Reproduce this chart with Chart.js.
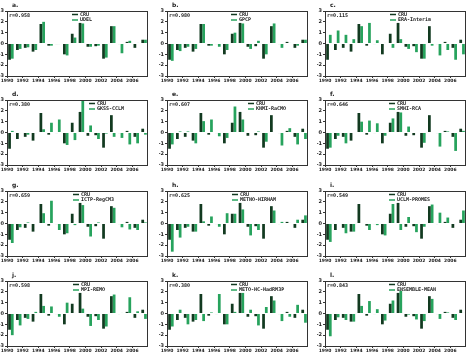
<!DOCTYPE html>
<html><head><meta charset="utf-8">
<script src="https://cdn.jsdelivr.net/npm/chart.js@4/dist/chart.umd.min.js"></script>
<style>
html,body{margin:0;padding:0;background:#fff;}
#wrap{position:relative;width:474px;height:359px;overflow:hidden;}
canvas{position:absolute;}
</style></head>
<body><div id="wrap"></div>
<script>
const years = [1990,1991,1992,1993,1994,1995,1996,1997,1998,1999,2000,2001,2002,2003,2004,2005,2006,2007];
const xTicks = [1990,1992,1994,1996,1998,2000,2002,2004,2006];
const yTicks = [-3,-2,-1,0,1,2,3];
const cru   = [-1.5,-0.6,-0.4,-0.75,1.8,-0.2,-0.05,-1.0,0.9,1.9,-0.3,-0.25,-1.4,1.6,-0.05,0.15,-0.4,0.35];
const udel  = [-1.4,-0.5,-0.35,-0.6,2.0,-0.2,-0.05,-1.1,0.55,1.85,-0.3,-0.2,-1.3,1.6,-0.9,0.25,0.05,0.35];
const gpcp  = [-1.6,-0.7,-0.3,-0.5,1.8,-0.2,-0.3,-0.6,1.0,1.85,-0.5,0.25,-1.0,1.85,-0.4,0.05,-0.2,0.35];
const era   = [0.8,1.2,0.8,0.4,1.6,1.9,0.3,0.05,-0.4,0.4,-0.5,-0.8,-1.4,-0.2,-1.1,-0.6,-1.5,-1.0];
const cclm  = [0.15,-0.05,-0.2,-0.05,0.3,0.9,1.2,-1.15,-0.7,3.0,0.65,-0.6,-0.1,-0.4,-0.5,-1.1,-1.0,-0.2];
const racmo = [-1.1,0.1,0.1,-1.0,1.05,1.2,-0.35,-0.5,2.4,1.2,0.0,0.1,-0.85,0.0,-1.2,0.4,-1.1,-0.6];
const rca   = [-1.4,-0.3,-1.0,0.0,1.0,1.1,0.85,-0.3,1.3,1.85,0.55,0.0,-0.95,0.0,-1.3,0.1,-1.7,0.15];
const regcm = [-1.8,-0.35,0.1,0.0,0.95,2.1,-0.6,-0.9,-0.15,1.7,-1.2,0.1,0.0,1.45,-0.35,-0.55,-0.6,0.1];
const hirham= [-2.6,-1.3,-0.3,-0.75,0.2,0.65,-0.3,0.95,0.9,1.3,-1.1,-0.6,0.0,1.2,0.15,0.05,0.35,0.75];
const promes= [-1.7,0.0,-0.9,-0.75,0.0,-0.6,-0.15,-1.1,1.8,-0.6,0.6,-0.8,-0.3,1.75,1.0,0.55,0.0,1.2];
const remo  = [-2.0,-1.1,-0.5,0.15,0.7,0.65,-0.3,1.0,0.05,0.45,-1.15,-0.6,-1.2,1.75,0.05,1.5,0.2,-0.5];
const hadrm = [-1.2,0.35,-1.0,-0.6,-0.7,0.1,1.8,-1.0,0.15,1.9,0.35,-1.1,0.6,1.2,-0.7,-0.3,0.8,-0.85];
const ensm  = [-2.1,-0.35,-0.6,-0.75,0.7,1.15,0.4,-0.65,1.2,2.1,-0.1,-0.55,-0.7,1.35,-0.5,0.1,-0.6,0.05];
const panelLetters = ['a.','b.','c.','d.','e.','f.','g.','h.','i.','j.','k.','l.'];
const modelNames = ['UDEL','GPCP','ERA-Interim','GKSS-CCLM','KNMI-RaCMO','SMHI-RCA','ICTP-RegCM3','METNO-HIRHAM','UCLM-PROMES','MPI-REMO','METO-HC-HadRM3P','ENSEMBLE-MEAN'];
const modelSeries = [udel,gpcp,era,cclm,racmo,rca,regcm,hirham,promes,remo,hadrm,ensm];
const rValues = ['0.958','0.980','0.115','0.380','0.607','0.646','0.659','0.625','0.549','0.598','0.380','0.843'];

// layout
const colLeft = [7,167,325];
const rowTop = [11,100,191,281];
const boxW = 141, boxH = 65;
const legendDx = [65,64,65,82,81,64,66,65,64,66,64,64];
const CRU_COLOR = '#123a20';
const MOD_COLOR = '#27a35d';

const panelPlugin = {
  id:'panelDeco',
  afterDraw(chart){
    const o = chart.options.plugins.panelDeco;
    const ctx = chart.ctx, a = chart.chartArea;
    ctx.save();
    ctx.strokeStyle = '#333';
    ctx.lineWidth = 1;
    ctx.strokeRect(Math.round(a.left)+0.5, Math.round(a.top)+0.5, Math.round(a.right-a.left)-1, Math.round(a.bottom-a.top));
    ctx.fillStyle = '#222';
    ctx.textBaseline = 'middle';
    ctx.font = 'bold 6px "DejaVu Sans"';
    ctx.fillText(o.letter, a.left+5, a.top-6);
    ctx.font = 'bold 5px "DejaVu Sans Mono"';
    ctx.fillText('r=' + o.r, a.left+2, a.top+4.5);
    const lx = a.left + o.dx;
    ctx.lineWidth = 1.5;
    ctx.strokeStyle = CRU_COLOR;
    ctx.beginPath(); ctx.moveTo(lx, a.top+3.5); ctx.lineTo(lx+6, a.top+3.5); ctx.stroke();
    ctx.strokeStyle = MOD_COLOR;
    ctx.beginPath(); ctx.moveTo(lx, a.top+9); ctx.lineTo(lx+6, a.top+9); ctx.stroke();
    ctx.fillStyle = '#222';
    ctx.font = 'bold 5px "DejaVu Sans Mono"';
    ctx.fillText('CRU', lx+8, a.top+3.5);
    ctx.fillText(o.name, lx+8, a.top+9);
    ctx.restore();
  }
};

const wrap = document.getElementById('wrap');
for (let i=0;i<12;i++){
  const col = i%3, row = Math.floor(i/3);
  const cv = document.createElement('canvas');
  const W = boxW+8+3, H = boxH+12+9;
  cv.width = W; cv.height = H;
  cv.style.width = W+'px'; cv.style.height = H+'px';
  cv.style.left = (colLeft[col]-8)+'px';
  cv.style.top = (rowTop[row]-12)+'px';
  wrap.appendChild(cv);
  const mk = arr => years.map((y,k)=>({x:y+0.5, y:arr[k]}));
  new Chart(cv.getContext('2d'), {
    type:'bar',
    data:{datasets:[
      {label:'CRU', data:mk(cru), backgroundColor:CRU_COLOR, categoryPercentage:0.7, barPercentage:1.0},
      {label:modelNames[i], data:mk(modelSeries[i]), backgroundColor:MOD_COLOR, categoryPercentage:0.7, barPercentage:1.0}
    ]},
    options:{
      responsive:false, animation:false, devicePixelRatio:1,
      layout:{padding:{top:12,right:3,left:0,bottom:0}, autoPadding:false},
      plugins:{legend:{display:false}, tooltip:{enabled:false},
        panelDeco:{letter:panelLetters[i], r:rValues[i], name:modelNames[i], dx:legendDx[i]}},
      scales:{
        x:{type:'linear', min:1990, max:2008, offset:false,
          afterFit(s){ s.height = 9; },
          afterBuildTicks(s){ s.ticks = xTicks.map(v=>({value:v})); },
          grid:{display:true, drawOnChartArea:false, tickLength:2, color:'#333', offset:false},
          border:{display:false},
          ticks:{maxRotation:0, autoSkip:false, padding:0, color:'#222', font:{size:4.5, weight:'bold', family:'DejaVu Sans'}, callback:v=>String(v)}
        },
        y:{min:-3, max:3,
          afterFit(s){ s.width = 8; },
          afterBuildTicks(s){ s.ticks = yTicks.map(v=>({value:v})); },
          grid:{display:true, drawOnChartArea:false, tickLength:2, color:'#333'},
          border:{display:false},
          ticks:{padding:1, color:'#222', font:{size:5, weight:'bold', family:'DejaVu Sans'}}
        }
      }
    },
    plugins:[panelPlugin]
  });
}
</script></body></html>
